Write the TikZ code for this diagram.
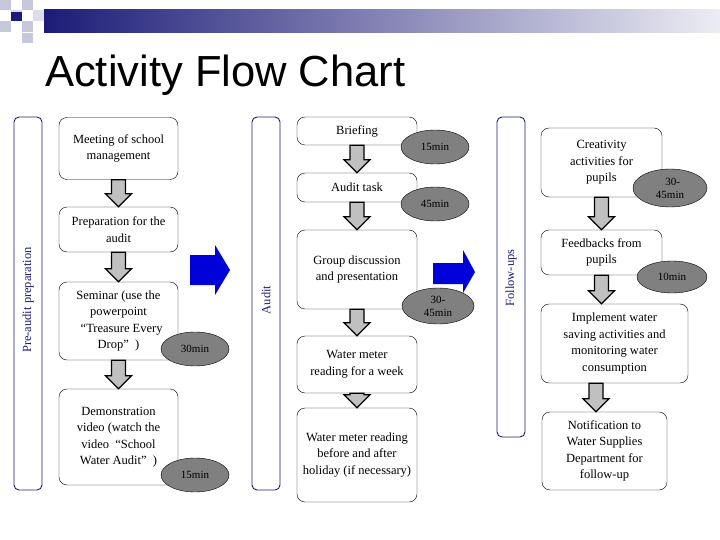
\documentclass[tikz,border=0pt]{standalone}
\usepackage{fontspec}
\setmainfont{Liberation Serif}
\newfontfamily\sansf{Liberation Sans}
\usetikzlibrary{shapes.geometric,calc}
\definecolor{navy}{HTML}{1C1C78}
\definecolor{ellg}{HTML}{808080}
\definecolor{arrg}{HTML}{C0C0C0}
\definecolor{sq}{HTML}{C8C8DC}
\begin{document}
\begin{tikzpicture}[x=1pt,y=-1pt,
  box/.style={draw,rounded corners=8pt,align=center,inner sep=0pt,font=\fontsize{12.5}{16.5}\selectfont},
  ell/.style={ellipse,draw,fill=ellg,inner sep=0pt,align=center,font=\fontsize{11}{13}\selectfont},
  band/.style={draw=navy,line width=0.9pt,rounded corners=5pt},
  bandlbl/.style={rotate=90,text=navy,font=\fontsize{12.5}{15}\selectfont},
  blue/.style={fill=blue!85!black,draw=none}]
\useasboundingbox (0,0) rectangle (720,540);
% header
\fill[sq] (0,0) rectangle (11,10);
\fill[sq] (22,0) rectangle (33,10);
\fill[sq!70] (11,10) rectangle (22,21);
\fill[sq] (0,21) rectangle (11,32);
\fill[sq] (22,21) rectangle (33,32);
\fill[navy] (11,12) rectangle (22,21);
\fill[sq!60] (33,10) rectangle (44,21);
\fill[sq] (22,33) rectangle (33,43);
\shade[left color=navy,right color=navy!8] (44,10) rectangle (720,33);
\node[anchor=base west,font=\sansf\fontsize{43.5}{46}\selectfont,inner sep=0pt] (title) at (45,87) {Activity Flow Chart};
% bands
\draw[band] (14,117) rectangle (42,490);
\node[bandlbl] (l1) at (28,300) {Pre-audit preparation};
\draw[band] (252,117) rectangle (280,490);
\node[bandlbl] (l2) at (266,300) {Audit};
\draw[band] (497,117) rectangle (525,437);
\node[bandlbl] (l3) at (511,278) {Follow-ups};
% left column
\node[box,minimum width=119pt,minimum height=62pt] (m) at (118.5,148.5) {Meeting of school\\management};
\node[box,minimum width=119pt,minimum height=45pt] (p) at (118.5,229.5) {Preparation for the\\audit};
\node[box,minimum width=119pt,minimum height=78pt] (s) at (118.5,321) {Seminar (use the\\powerpoint\\\ \ ``Treasure Every\\Drop''\ \ )};
\node[box,minimum width=119pt,minimum height=96pt] (d) at (118.5,437) {Demonstration\\video (watch the\\video\ \ ``School\\Water Audit''\ \ )};
% middle column
\node[box,minimum width=120pt,minimum height=28pt] (b) at (357,131) {Briefing};
\node[box,minimum width=120pt,minimum height=29pt] (a) at (357,187.5) {Audit task};
\node[box,minimum width=120pt,minimum height=79pt] (g) at (357,269.5) {Group discussion\\and presentation};
\node[box,minimum width=120pt,minimum height=57pt] (w1) at (357,364.5) {Water meter\\reading for a week};
\node[box,minimum width=120pt,minimum height=94pt] (w2) at (357,455) {Water meter reading\\before and after\\holiday (if necessary)};
% right column
\node[box,minimum width=121pt,minimum height=69pt] (c) at (601.5,162.5) {Creativity\\activities for\\pupils};
\node[box,minimum width=121pt,minimum height=45pt] (f) at (601.5,252.5) {Feedbacks from\\pupils};
\node[box,minimum width=147pt,minimum height=79pt] (i) at (614.5,343.5) {Implement water\\saving activities and\\monitoring water\\consumption};
\node[box,minimum width=125pt,minimum height=78pt] (n) at (604.5,451) {Notification to\\Water Supplies\\Department for\\follow-up};
% gray arrows
\newcommand{\grarrow}[2]{%
  \path let \p1=(#1.south), \p2=(#2.north) in
   [draw=black,fill=arrg,line width=1.2pt]
   (\x1-7pt,\y1) -- (\x1+7pt,\y1) -- (\x1+7pt,\y2+13pt) -- (\x1+13pt,\y2+13pt) -- (\x1,\y2)
   -- (\x1-13pt,\y2+13pt) -- (\x1-7pt,\y2+13pt) -- cycle;}
\grarrow{m}{p}\grarrow{p}{s}\grarrow{s}{d}
\grarrow{b}{a}\grarrow{a}{g}\grarrow{g}{w1}\grarrow{w1}{w2}
\grarrow{c}{f}\grarrow{f}{i}
\path let \p1=(n.north) in coordinate (nn) at (596,\y1);
\path let \p1=(i.south) in coordinate (is) at (596,\y1);
\path let \p1=(is), \p2=(nn) in
   [draw=black,fill=arrg,line width=1.2pt]
   (\x1-7pt,\y1) -- (\x1+7pt,\y1) -- (\x1+7pt,\y2+13pt) -- (\x1+13pt,\y2+13pt) -- (\x1,\y2)
   -- (\x1-13pt,\y2+13pt) -- (\x1-7pt,\y2+13pt) -- cycle;
% ellipses
\node[ell,minimum width=68pt,minimum height=34pt] (e1) at (195,349) {30min};
\node[ell,minimum width=68pt,minimum height=34pt] (e2) at (195,475) {15min};
\node[ell,minimum width=68pt,minimum height=34pt] (e3) at (435,147) {15min};
\node[ell,minimum width=68pt,minimum height=34pt] (e4) at (435,204) {45min};
\node[ell,minimum width=72pt,minimum height=36pt] (e5) at (438,306) {30-\\45min};
\node[ell,minimum width=74pt,minimum height=38pt] (e6) at (670,188) {\ \ 30-\\45min};
\node[ell,minimum width=70pt,minimum height=32pt] (e7) at (672,277) {10min};
% blue arrows
\fill[blue] (190,255) -- (215,255) -- (215,245) -- (230,270) -- (215,295) -- (215,285) -- (190,285) -- cycle;
\fill[blue] (433,263) -- (463,263) -- (463,250) -- (475,272) -- (463,293) -- (463,284) -- (433,284) -- cycle;
\end{tikzpicture}
\end{document}
